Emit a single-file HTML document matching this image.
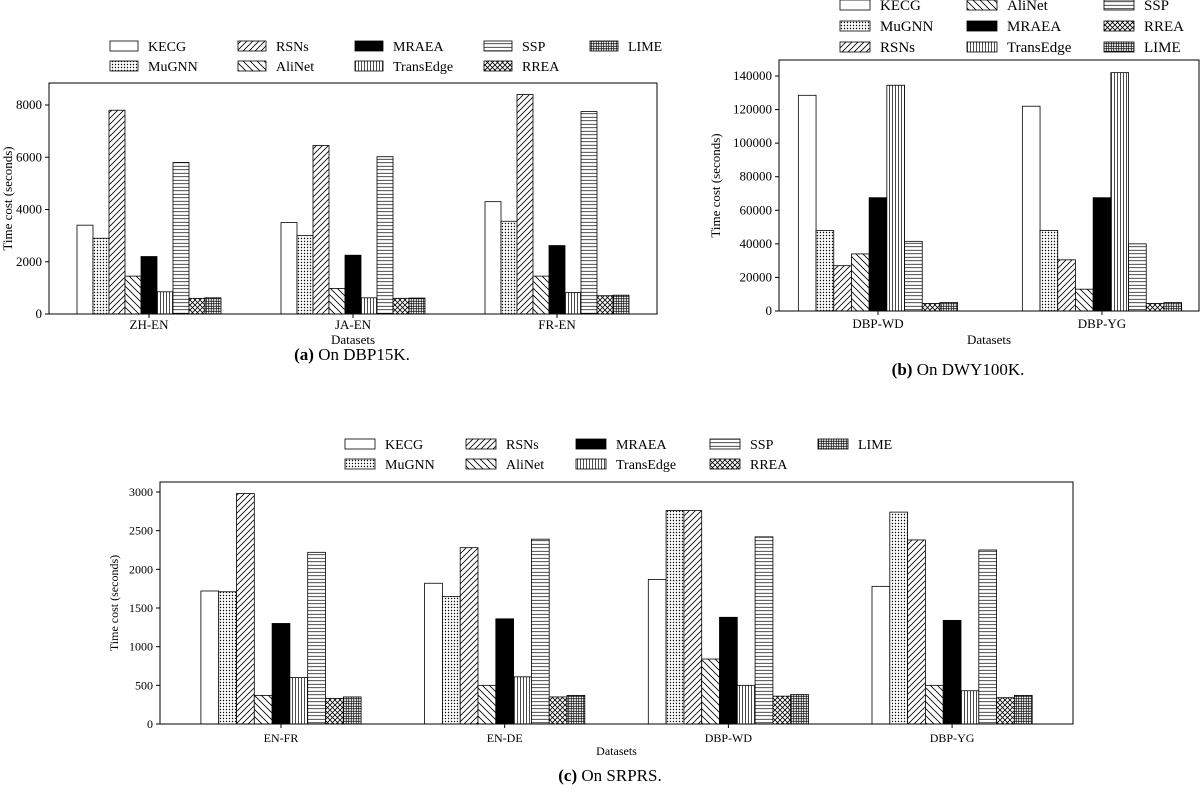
<!DOCTYPE html>
<html><head><meta charset="utf-8"><style>
body{margin:0;background:#fff;}
svg{display:block;font-family:"Liberation Serif",serif;}
text{font-family:"Liberation Serif",serif;}
</style></head><body>
<svg id="fig" width="1200" height="794" viewBox="0 0 1200 794" xmlns="http://www.w3.org/2000/svg">
<defs>
<pattern id="p-dots" width="3" height="3" patternUnits="userSpaceOnUse"><rect width="3" height="3" fill="#fff"/><circle cx="1.5" cy="1.5" r="0.7" fill="#000"/></pattern>
<pattern id="p-fwd" width="6" height="6" patternUnits="userSpaceOnUse"><rect width="6" height="6" fill="#fff"/><path d="M0,6 L6,0 M-1,1 L1,-1 M5,7 L7,5" stroke="#000" stroke-width="0.8"/></pattern>
<pattern id="p-back" width="7" height="7" patternUnits="userSpaceOnUse"><rect width="7" height="7" fill="#fff"/><path d="M0,0 L7,7 M-1,6 L1,8 M6,-1 L8,1" stroke="#000" stroke-width="0.8"/></pattern>
<pattern id="p-vert" width="3" height="3" patternUnits="userSpaceOnUse"><rect width="3" height="3" fill="#fff"/><path d="M1.5,0 L1.5,3" stroke="#000" stroke-width="0.7"/></pattern>
<pattern id="p-horz" width="3" height="3.5" patternUnits="userSpaceOnUse"><rect width="3" height="3.5" fill="#fff"/><path d="M0,1.75 L3,1.75" stroke="#000" stroke-width="0.7"/></pattern>
<pattern id="p-cross" width="5" height="5" patternUnits="userSpaceOnUse"><rect width="5" height="5" fill="#fff"/><path d="M0,0 L5,5 M5,0 L0,5" stroke="#000" stroke-width="0.8"/></pattern>
<pattern id="p-grid" width="2.5" height="2.5" patternUnits="userSpaceOnUse"><rect width="2.5" height="2.5" fill="#fff"/><path d="M1.25,0 L1.25,2.5 M0,1.25 L2.5,1.25" stroke="#000" stroke-width="0.7"/></pattern>
</defs>
</svg>
<script>
const methods = ["KECG","MuGNN","RSNs","AliNet","MRAEA","TransEdge","SSP","RREA","LIME"];
const fills = ["#fff","url(#p-dots)","url(#p-fwd)","url(#p-back)","#000","url(#p-vert)","url(#p-horz)","url(#p-cross)","url(#p-grid)"];

const catsA = ["ZH-EN","JA-EN","FR-EN"];
const valsA = [
  [3400,2900,7800,1450,2200,850,5800,600,620],
  [3500,3000,6450,980,2250,620,6020,600,610],
  [4300,3550,8400,1450,2620,820,7750,700,720]
];
const ticksA = [0,2000,4000,6000,8000];

const catsB = ["DBP-WD","DBP-YG"];
const valsB = [
  [128500,48000,27000,34000,67500,134500,41500,4500,5000],
  [122000,48000,30500,13000,67500,142000,40000,4500,5000]
];
const ticksB = [0,20000,40000,60000,80000,100000,120000,140000];

const catsC = ["EN-FR","EN-DE","DBP-WD","DBP-YG"];
const valsC = [
  [1720,1710,2980,370,1300,600,2220,330,350],
  [1820,1650,2280,500,1360,610,2390,350,370],
  [1870,2760,2760,840,1380,500,2420,360,380],
  [1780,2740,2380,500,1340,430,2250,340,370]
];
const ticksC = [0,500,1000,1500,2000,2500,3000];

const NS = "http://www.w3.org/2000/svg";
const svg = document.getElementById('fig');
function mk(tag, attrs, parent, text){
  const e = document.createElementNS(NS, tag);
  for (const k in attrs) e.setAttribute(k, attrs[k]);
  if (text !== undefined) e.textContent = text;
  (parent||svg).appendChild(e);
  return e;
}

function chart(cfg){
  const g = mk('g', {});
  
  
  const {L,R,T,B,vmax,c0,step,bw,fs} = cfg;
  const yS = v => B - (v/vmax)*(B - cfg.yTop);
  const xS = i => c0 + i*step;
  cfg.vals.forEach((row, ci) => {
    row.forEach((v, mi) => {
      const x = xS(ci) + (mi - (methods.length-1)/2)*bw - bw/2;
      const r = mk('rect', {x:x, y:yS(v), width:bw, height:B - yS(v), fill:fills[mi], stroke:'#000', 'stroke-width':0.8}, g);
      
      
    });
  });
  const f = mk('rect', {x:L, y:T, width:R-L, height:B-T, fill:'none', stroke:'#000', 'stroke-width':1}, g);
  
  
  cfg.ticks.forEach(t => {
    mk('line', {x1:L-4, x2:L, y1:yS(t), y2:yS(t), stroke:'#000'}, g);
    const tx = mk('text', {x:L-7, y:yS(t)+4, 'text-anchor':'end', 'font-size':fs}, g, String(t));
    
    
  });
  cfg.cats.forEach((c, ci) => {
    mk('line', {x1:xS(ci), x2:xS(ci), y1:B, y2:B+4, stroke:'#000'}, g);
    const tx = mk('text', {x:xS(ci), y:cfg.tkY, 'text-anchor':'middle', 'font-size':fs}, g, c);
    
    
  });
  const xl = mk('text', {x:(L+R)/2, y:cfg.xlY, 'text-anchor':'middle', 'font-size':fs}, g, 'Datasets');
  
  
  const yl = mk('text', {x:0, y:0, 'text-anchor':'middle', 'font-size':fs, transform:`translate(${cfg.ylX},${(T+B)/2}) rotate(-90)`}, g, 'Time cost (seconds)');
  
  
  cfg.legend.forEach((pos, mi) => {
    const lg = mk('g', {}, g);
    
    
    mk('rect', {x:pos[0], y:pos[1]-6, width:cfg.sw, height:10, fill:fills[mi], stroke:'#000', 'stroke-width':0.8}, lg);
    mk('text', {x:pos[0]+cfg.sw+10, y:pos[1]+4, 'font-size':cfg.lfs}, lg, methods[mi]);
  });
  const cap = mk('text', {x:cfg.capX, y:cfg.capY, 'text-anchor':'middle', 'font-size':17}, g);
  
  
  mk('tspan', {'font-weight':'bold'}, cap, cfg.capB);
  mk('tspan', {}, cap, ' ' + cfg.capT);
}

const legA = [[110,47],[110,67],[238,47],[238,67],[355,47],[355,67],[484,47],[484,67],[590,47]];
const legB = [[840,6],[840,27],[840,48],[967,6],[967,27],[967,48],[1104,6],[1104,27],[1104,48]];
const legC = [[345,445],[345,465],[466,445],[466,465],[576,445],[576,465],[710,445],[710,465],[818,445]];

chart({name:'chart-dbp15k', cats:catsA, vals:valsA, ticks:ticksA, L:49, R:657, T:83, B:314, yTop:105, vmax:8000,
  c0:149, step:204, bw:16, fs:13, lfs:14, tkY:329, xlY:344, ylX:12, legend:legA, sw:28, capX:352, capY:360, capB:'(a)', capT:'On DBP15K.'});
chart({name:'chart-dwy100k', cats:catsB, vals:valsB, ticks:ticksB, L:779, R:1199, T:60, B:311, yTop:76, vmax:140000,
  c0:878, step:224, bw:17.7, fs:13, lfs:15, tkY:328, xlY:344, ylX:720, legend:legB, sw:30, capX:958, capY:375, capB:'(b)', capT:'On DWY100K.'});
chart({name:'chart-srprs', cats:catsC, vals:valsC, ticks:ticksC, L:160, R:1073, T:482, B:724, yTop:492, vmax:3000,
  c0:281, step:223.7, bw:17.8, fs:12, lfs:14, tkY:742, xlY:755, ylX:118, legend:legC, sw:30, capX:610, capY:781, capB:'(c)', capT:'On SRPRS.'});
</script>
</body></html>
